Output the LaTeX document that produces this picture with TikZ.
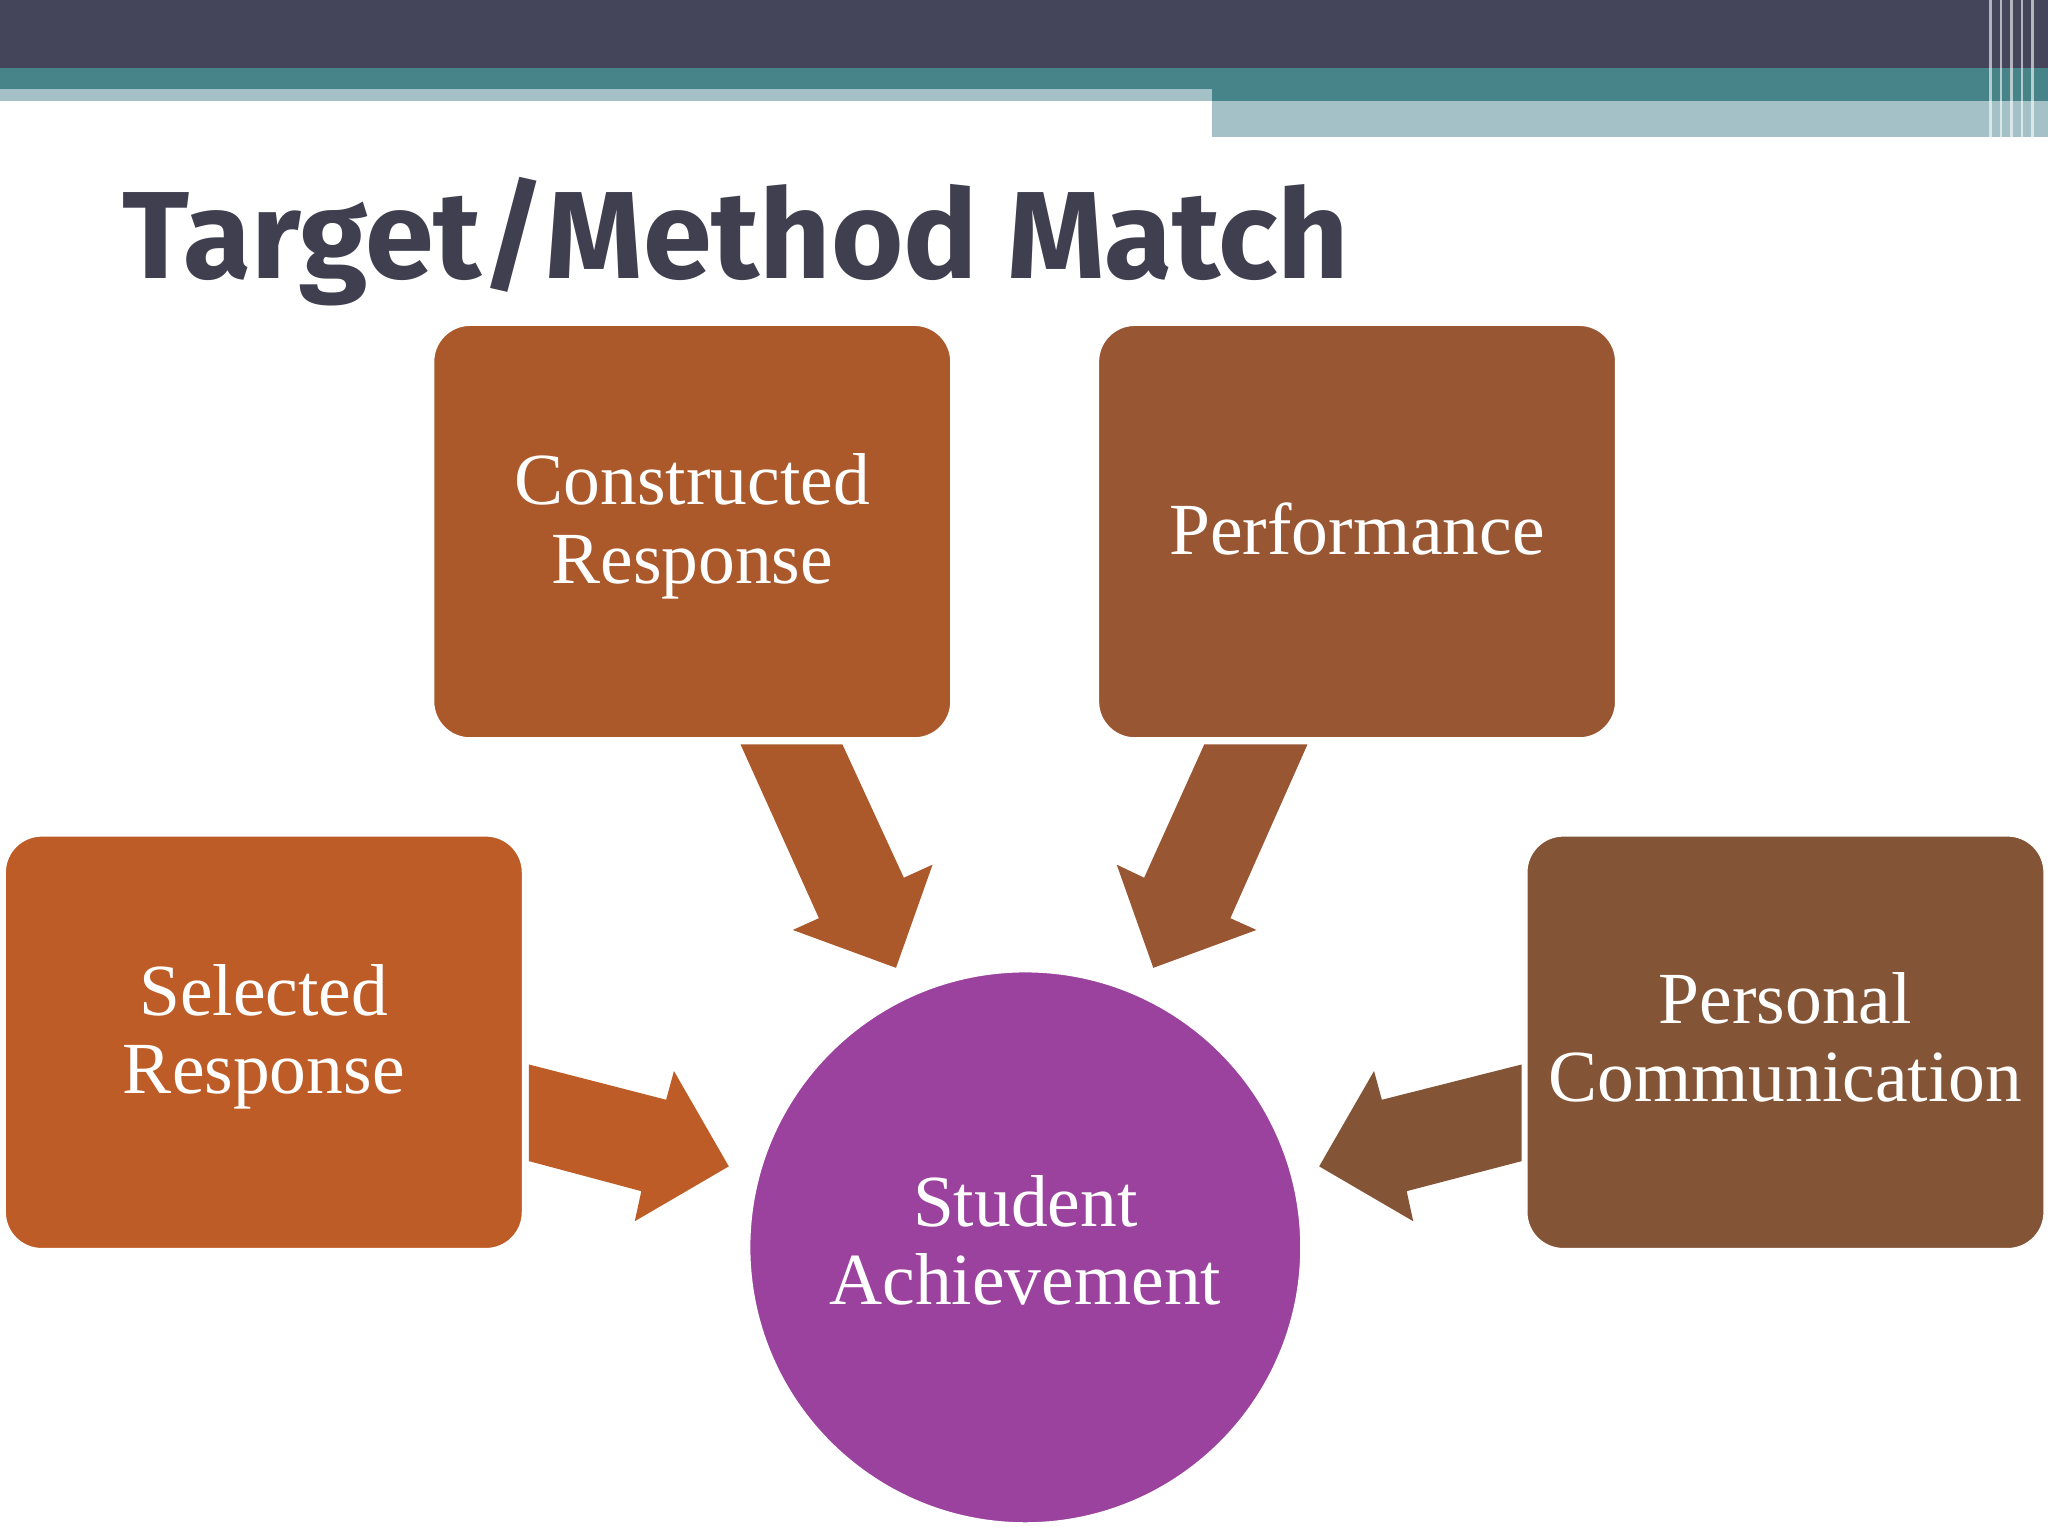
\documentclass[tikz,border=0pt]{standalone}
\usepackage{fontspec}
\setmainfont{Liberation Serif}
\newfontfamily\titlefont{Fira Sans}
\definecolor{hdark}{HTML}{44445A}
\definecolor{hteal}{HTML}{468489}
\definecolor{hlight}{HTML}{A3C1C6}
\definecolor{ctitle}{HTML}{3F3F50}
\definecolor{cA}{HTML}{AB592B}
\definecolor{cB}{HTML}{985632}
\definecolor{cC}{HTML}{BE5C27}
\definecolor{cD}{HTML}{835436}
\definecolor{cE}{HTML}{9B429E}
\begin{document}
\begin{tikzpicture}[x=0.01cm,y=-0.01cm,
  box/.style={draw=white,line width=1.5pt,rounded corners=0.3cm,minimum width=4cm,minimum height=3.2cm,text=white,font=\fontsize{16pt}{17pt}\selectfont,align=center},
  txt/.style={text=white,font=\fontsize{16pt}{17pt}\selectfont,align=center}]
\useasboundingbox (0,0) rectangle (1568,1176);
\fill[white] (0,0) rectangle (1568,1176);
\fill[hdark] (0,0) rectangle (1568,52);
\fill[hteal] (0,52) rectangle (1568,68);
\fill[hlight] (0,68) rectangle (928,77);
\fill[hteal] (928,68) rectangle (1568,77);
\fill[hlight] (928,77) rectangle (1568,105);
\foreach \xx in {1524,1532,1540,1548,1556}{\draw[white,opacity=0.6,line width=0.6pt] (\xx,0) -- (\xx,105);}
\node[anchor=base west,inner sep=0,text=ctitle,font=\titlefont\fontsize{27pt}{30pt}\selectfont\bfseries] (title) at (93,213) {Target/Method Match};
\node[box,fill=cA] (cr) at (530,407) {};
\node[txt] at (530,403) {Constructed\\Response};
\node[box,fill=cB] (pf) at (1039,407) {};
\node[txt] at (1039,405) {Performance};
\node[box,fill=cC] (sr) at (202,798) {};
\node[txt] at (202,794) {Selected\\Response};
\node[box,fill=cD] (pc) at (1367,798) {};
\node[txt] at (1367,794) {Personal\\Communication};
\node[circle,draw=white,line width=1.5pt,fill=cE,minimum size=4.26cm] (sa) at (785,955) {};
\node[txt] at (785,950) {Student\\Achievement};
\fill[cA] (567,570) -- (645,570) -- (692,672) -- (714,662) -- (686,741) -- (607,712) -- (627,703) -- cycle;
\fill[cB] (922,570) -- (1001,570) -- (942,703) -- (962,712) -- (883,741) -- (855,662) -- (876,672) -- cycle;
\fill[cC] (405,815) -- (510,842) -- (516,820) -- (558,893) -- (486,935) -- (491,912) -- (405,889) -- cycle;
\fill[cD] (1165,815) -- (1058,842) -- (1052,820) -- (1010,893) -- (1082,935) -- (1077,912) -- (1165,889) -- cycle;
\end{tikzpicture}
\end{document}
